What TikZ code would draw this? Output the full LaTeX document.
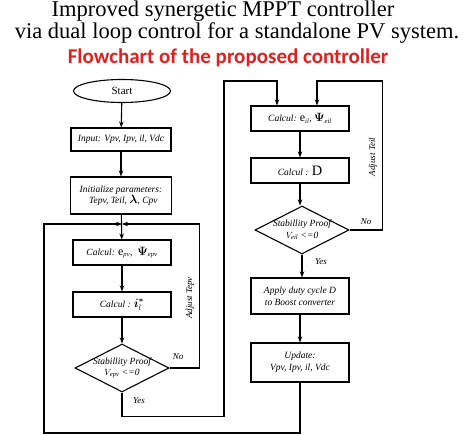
\documentclass[tikz,border=0pt]{standalone}
\usepackage{amsmath}
\usepackage{amssymb}
\usepackage{fontspec}
\setmainfont{Liberation Serif}
\newfontfamily\headfont{Carlito}
\usetikzlibrary{shapes.geometric, arrows.meta, positioning}
\usepackage{xcolor}
\definecolor{titlered}{HTML}{E21F1F}

\tikzset{
  flowbox/.style={draw, line width=1.1pt, minimum width=98pt, minimum height=25pt,
    inner sep=2pt, align=center, font=\fontsize{9.5}{12}\selectfont\itshape},
  decision/.style={draw, diamond, aspect=2, line width=1.1pt, minimum width=94pt,
    minimum height=48pt, inner sep=0pt, align=center,
    font=\fontsize{9.5}{11}\selectfont\itshape},
  flowarrow/.style={-{Stealth[length=6pt,width=4.5pt]}, line width=1.1pt},
  branchlabel/.style={font=\fontsize{9}{10}\selectfont\itshape, inner sep=0pt},
}

\begin{document}
\begin{tikzpicture}[x=1pt, y=-1pt]
        \useasboundingbox (0,0) rectangle (474,436);
        % Titel
        \node[anchor=base, font=\fontsize{22.5}{24}\selectfont, inner sep=0pt] (title1) at (223,16.5) {Improved synergetic MPPT controller};
        \node[anchor=base, font=\fontsize{22.5}{24}\selectfont, inner sep=0pt] (title2) at (237,38.5) {via dual loop control for a standalone PV system.};
        \node[anchor=base, font=\headfont\bfseries\fontsize{21}{22}\selectfont, text=titlered, inner sep=0pt] (subtitle) at (228,63.5) {Flowchart of the proposed controller};
        % linke Spalte (aeussere Schleife)
        \node[draw, ellipse, line width=1.1pt, minimum width=97pt, minimum height=23pt, inner sep=0pt, font=\fontsize{11}{12}\selectfont] (start) at (122,91) {Start};
        \node[flowbox, minimum height=23pt, minimum width=100pt] (input) at (121,139.5) {Input: Vpv, Ipv, il, Vdc};
        \node[flowbox, minimum height=37pt, minimum width=101pt] (init) at (121,195.5) {Initialize parameters:\\[-1pt] \ \ Tepv, Teil, {\large$\boldsymbol{\lambda}$}, Cpv};
        \coordinate (join) at (122,224);
        \node[flowbox] (calcpv) at (122,252.5) {Calcul: $\text{\large\upshape e}_{\mathit{pv}}$, \ {\large$\boldsymbol{\Psi}$}$_{\mathit{epv}}$};
        \node[flowbox] (calcil) at (122,304.5) {Calcul : {\large$\boldsymbol{i}_{l}^{\boldsymbol{*}}$}};
        \node[decision] (stabpv) at (122,368) {\makebox[0pt]{\shortstack{Stabillity Proof\\$V_{\mathit{epv}}$ <=0}}};
        % rechte Spalte (innere Schleife)
        \node[flowbox] (calceil) at (300,118.5) {Calcul: $\text{\large\upshape e}_{\mathit{il}}$, {\large$\boldsymbol{\Psi}$}$_{\mathit{eil}}$};
        \node[flowbox] (calcd) at (300,170.5) {Calcul : {\Large\upshape D}};
        \node[decision] (stabil) at (302,230) {\makebox[0pt]{\shortstack{Stabillity Proof\\$V_{\mathit{eil}}$ <=0}}};
        \node[flowbox, minimum height=36pt] (apply) at (300,296) {Apply duty cycle D\\to Boost converter};
        \node[flowbox, minimum height=39pt] (update) at (300,362.5) {Update:\\Vpv, Ipv, il, Vdc};
        % Pfeile links
        \draw[flowarrow] (start) -- (input);
        \draw[flowarrow] (input) -- (init);
        \draw[flowarrow] (init) -- (calcpv);
        \draw[flowarrow] (calcpv) -- (calcil);
        \draw[flowarrow] (calcil) -- (stabpv);
        \draw[flowarrow] (stabpv.east) -- ++(30,0) |- (join);
        \draw[flowarrow] (update.south) |- (44,433) |- (join);
        % Yes -> innere Schleife
        \draw[flowarrow] (stabpv.south) -- ++(0,24) -| (224,81) -| ([xshift=-23pt]calceil.north);
        % Pfeile rechts
        \draw[flowarrow] (calceil) -- (calcd);
        \draw[flowarrow] (calcd.south) -- (calcd.south |- stabil.north);
        \draw[flowarrow] (stabil.east) -- ++(33,0) -- ++(0,-149) -| ([xshift=17pt]calceil.north);
        \draw[flowarrow] (stabil.south) -- (stabil.south |- apply.north);
        \draw[flowarrow] (apply) -- (update);
        % Beschriftungen
        \node[branchlabel] (nopv) at (178,357) {No};
        \node[branchlabel] (yespv) at (139,401) {Yes};
        \node[branchlabel, rotate=90] (adjpv) at (190,298) {Adjust Tepv};
        \node[branchlabel] (noil) at (366,222) {No};
        \node[branchlabel] (yesil) at (321,262) {Yes};
        \node[branchlabel, rotate=90] (adjil) at (373,157) {Adjust Teil};
      \end{tikzpicture}
\end{document}
